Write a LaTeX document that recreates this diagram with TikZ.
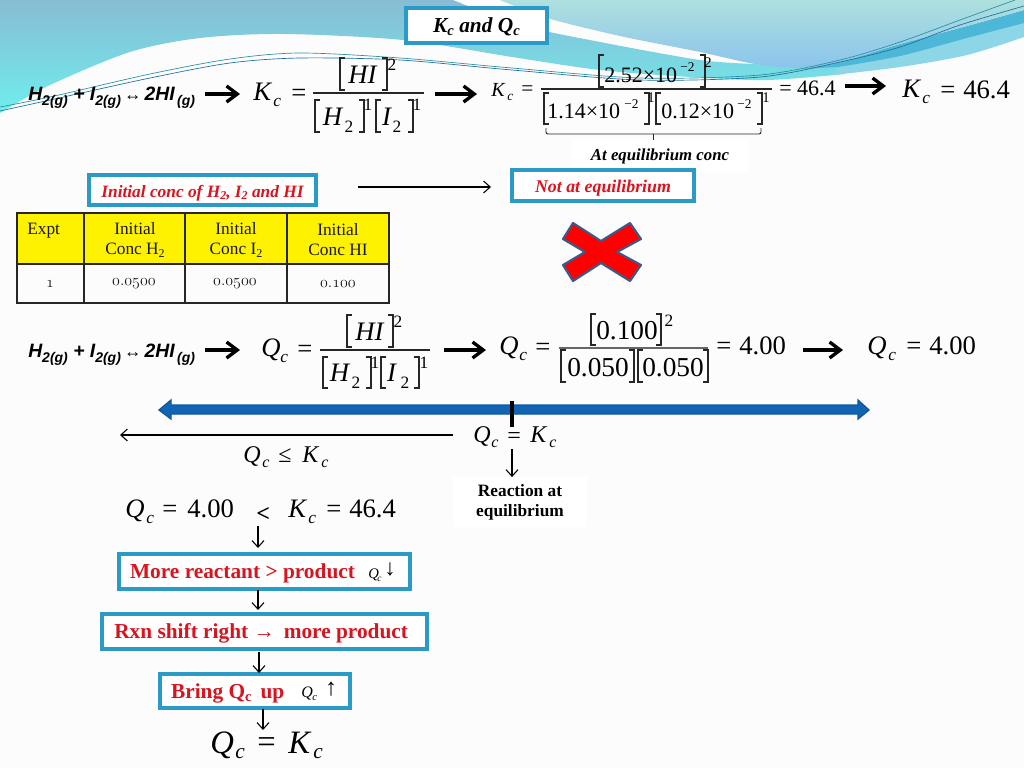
\documentclass[tikz,border=0pt]{standalone}
\usepackage{fontspec}
\setmainfont{Liberation Serif}
\newfontfamily\chemfont{Liberation Sans}
\usetikzlibrary{arrows.meta}
\definecolor{boxblue}{HTML}{2A9BC6}
\definecolor{boxred}{HTML}{D9141E}
\definecolor{crossedge}{HTML}{3B5A8C}
\definecolor{barblue}{HTML}{1264B4}
\definecolor{bardark}{HTML}{0F5A9C}
\newcommand\fs[1]{\fontsize{#1}{#1}\selectfont}
\newcommand\oldnum[1]{{\usefont{OML}{cmm}{m}{it}#1}}
\newcommand\dotnum{\char58 }
% name, anchor, x, y(base), size, text
\newcommand\Tx[6]{\node[anchor=#2,inner sep=0pt,font=\fs{#5}] (#1) at (#3,#4) {#6};}
% bracket pair x1 x2 y1 y2
\newcommand\BR[4]{\draw[brkt] (#1+5,#3) -- (#1,#3) -- (#1,#4) -- (#1+5,#4);\draw[brkt] (#2-5,#3) -- (#2,#3) -- (#2,#4) -- (#2-5,#4);}
% name x1 y1 x2 y2 text
\newcommand\Bx[6]{\node[infobox,minimum width={(#4-#2)*0.75pt},minimum height={(#5-#3)*0.75pt}] (#1) at ({(#2+#4)/2},{(#3+#5)/2}) {\raisebox{0pt}[13pt][2pt]{#6}};}
\newcommand\ChemSub[1]{\raisebox{-.55ex}{\fs{10.5}#1}}
\newcommand\Chem[3]{\node[anchor=base west,inner sep=0pt,font=\chemfont\bfseries\itshape\fs{14.5}] (#1) at (#2,#3) {H\ChemSub{2(g)} + I\ChemSub{2(g)}\,{\fontspec{Liberation Serif}\fs{13}↔}\,2HI\ChemSub{\,(g)}};}
\tikzset{
  x=0.75pt,y=-0.75pt,
  brkt/.style={line width=0.85pt,black!85,line join=miter},
  infobox/.style={draw=boxblue,fill=white,line width=2.3pt,inner sep=0pt,align=center,text=boxred,font=\bfseries\fs{16}},
  thickarrow/.style={line width=2.5pt,-{Straight Barb[length=8pt,width=12pt,line width=2.5pt]}},
  thinarrow/.style={line width=0.8pt,-{Straight Barb[length=5pt,width=9pt,line width=0.8pt]}},
  fracrule/.style={line width=0.8pt,black!85},
  gridline/.style={line width=1.2pt,black!85},
  tablehead/.style={anchor=center,align=center,inner sep=0pt,font=\fs{13},text=black!90},
}
\begin{document}
\begin{tikzpicture}
\useasboundingbox (0,0) rectangle (1024,768);
\fill[white!99!black] (0,0) rectangle (1024,768);
% --- waves
\shade[top color={rgb,255:red,136;green,188;blue,212},middle color={rgb,255:red,124;green,206;blue,224},bottom color={rgb,255:red,110;green,238;blue,238}]
  (0,0) -- (453,0) -- plot[smooth] coordinates {(453,0) (520,25) (600,42) (700,60) (755,64)}
  -- plot[smooth] coordinates {(755,64) (800,68) (840,64) (845,70)}
  -- plot[smooth] coordinates {(845,74) (767,80) (690,77) (600,70) (512,57) (403,40) (283,34) (200,38) (130,52) (50,85) (0,113)} -- cycle;
\fill[white!54!boxblue!90!cyan] plot[smooth] coordinates {(838,66) (900,55) (967,37) (1024,22)} -- (1024,37) -- plot[smooth] coordinates {(1024,37) (967,55) (900,67) (833,75)} -- cycle;
\fill[white!20!boxblue!90!cyan] plot[smooth] coordinates {(800,69) (840,62) (900,44) (967,26) (1024,10)} -- (1024,23) -- plot[smooth] coordinates {(1024,23) (967,38) (900,56) (838,67)} -- cycle;
\shade[top color={rgb,255:red,174;green,224;blue,222},bottom color={rgb,255:red,138;green,196;blue,236}]
  plot[smooth] coordinates {(500,0) (547,18) (620,36) (700,52) (755,64) (800,68) (840,62) (900,44) (967,26) (1024,10)} -- (1024,0) -- cycle;
\draw[line width=0.5pt,color={rgb,255:red,40;green,145;blue,160}] plot[smooth] coordinates {(0,107) (50,97) (150,74) (230,59) (300,53) (400,58) (512,68) (640,78) (760,75) (840,60) (900,42) (960,20) (1015,0)};
\draw[line width=0.5pt,color={rgb,255:red,30;green,110;blue,160}] plot[smooth] coordinates {(0,111) (50,100) (150,78) (230,63) (300,58) (400,60) (512,70) (640,80) (760,77) (840,62) (900,47) (960,25) (1024,6)};
% --- title and boxes
\Bx{title}{406}{8}{547}{43}{\textcolor{black}{\itshape K\raisebox{-.3ex}{\fs{11}c} and Q\raisebox{-.3ex}{\fs{11}c}}}
% --- row 1
\Chem{chemA}{28}{100}
\coordinate (a1s) at (205,94); \coordinate (a1e) at (240,94);
\draw[thickarrow] (a1s) -- (a1e);
\Tx{kA}{base west}{253}{100}{20}{\textit{K}}
\Tx{kAc}{base west}{273}{106}{13}{\textit{c}}
\Tx{kAe}{base west}{291}{101}{20}{=}
\coordinate (rAa) at (313,93); \coordinate (rAb) at (424,93);
\draw[fracrule] (rAa) -- (rAb);
\BR{340}{387}{58}{90}
\Tx{hiA}{base}{363}{83}{20}{\textit{HI}}
\Tx{supA}{base}{392}{70}{13}{2}
\BR{315}{364}{100}{132}
\Tx{hA}{base}{333}{125}{20}{\textit{H}}
\Tx{hAs}{base}{349}{132}{13}{2}
\Tx{hAp}{base}{368}{110}{13}{1}
\BR{376}{413}{100}{132}
\Tx{iA}{base}{387}{125}{20}{\textit{I}}
\Tx{iAs}{base}{397}{132}{13}{2}
\Tx{iAp}{base}{417}{110}{13}{1}
\coordinate (a2s) at (435,94); \coordinate (a2e) at (477,94);
\draw[thickarrow] (a2s) -- (a2e);
\Tx{kB}{base west}{491}{96}{15}{\textit{K}}
\Tx{kBc}{base west}{507}{100}{10}{\textit{c}}
\Tx{kBe}{base west}{521}{95}{16}{=}
\coordinate (rBa) at (541,89); \coordinate (rBb) at (772,89);
\draw[fracrule] (rBa) -- (rBb);
\BR{599}{705}{55}{87}
\Tx{nB}{base west}{604}{82}{16.5}{2.52×10}
\Tx{nBe}{base west}{680}{71}{10}{−2}
\Tx{nBp}{base}{708}{67}{11}{2}
\BR{544}{649}{93}{124}
\Tx{dB}{base west}{547}{118}{16.5}{1.14×10}
\Tx{dBe}{base west}{624}{108}{10}{−2}
\Tx{dBp}{base}{651}{102}{11}{1}
\BR{656}{762}{93}{124}
\Tx{dC}{base west}{661}{118}{16.5}{0.12×10}
\Tx{dCe}{base west}{737}{108}{10}{−2}
\Tx{dCp}{base}{766}{102}{11}{1}
\Tx{resB}{base west}{779}{95}{16.5}{= 46.4}
\draw[line width=0.7pt,black!85,rounded corners=1.5pt] (546,128) -- (546,134) -- (761,134) -- (761,128);
\coordinate (brA) at (653,134); \coordinate (brB) at (653,140);
\draw[line width=0.7pt,black!85] (brA) -- (brB);
\node[fill=white,inner sep=0pt,minimum width=132pt,minimum height=24pt,font=\bfseries\itshape\fs{12.6}] (eqconc) at (660,156) {At equilibrium conc};
\coordinate (a3s) at (845,86); \coordinate (a3e) at (886,86);
\draw[thickarrow] (a3s) -- (a3e);
\Tx{kD}{base west}{902}{97}{20}{\textit{K}}
\Tx{kDc}{base west}{922}{103}{13}{\textit{c}}
\Tx{kDe}{base west}{940}{98}{20}{=}
\Tx{kDv}{base west}{963}{98}{20}{46.4}
% --- initial conc row
\Bx{initc}{89}{175}{316}{205}{\itshape\fs{13}Initial conc of H\raisebox{-.3ex}{\fs{9}2}, I\raisebox{-.3ex}{\fs{9}2} and HI}
\Bx{noteq}{512}{170}{694}{201}{\itshape\fs{13.4}Not at equilibrium}
\coordinate (iaS) at (358,187); \coordinate (iaE) at (491,187);
\draw[thinarrow] (iaS) -- (iaE);
% --- table
\fill[yellow] (17,213) rectangle (389,264);
\draw[gridline] (17,213) rectangle (389,303);
\draw[gridline] (17,264) -- (389,264);
\draw[gridline] (84,213) -- (84,303);
\draw[gridline] (185,213) -- (185,303);
\draw[gridline] (287,213) -- (287,303);
\node[tablehead,anchor=west] (tExpt) at (27,231) {Expt};
\node[tablehead] (tH) at (135,240) {Initial\\[2pt]Conc H\raisebox{-.3ex}{\fs{9}2}};
\node[tablehead] (tI) at (236,240) {Initial\\[2pt]Conc I\raisebox{-.3ex}{\fs{9}2}};
\node[tablehead] (tHI) at (338,240) {Initial\\[2pt]Conc HI};
\node[tablehead,font=\fs{11.5}] (v0) at (50,284) {\oldnum{1}};
\node[tablehead,font=\fs{11.5}] (v1) at (134,284) {\oldnum{0\dotnum 0500}};
\node[tablehead,font=\fs{11.5}] (v2) at (235,284) {\oldnum{0\dotnum 0500}};
\node[tablehead,font=\fs{11.5}] (v3) at (338,284) {\oldnum{0\dotnum 100}};
% --- red cross
\draw[fill=red,draw=crossedge,line width=1.6pt,line join=round] (573,223) -- (601,241) -- (630,223) -- (641,239) -- (617,252) -- (641,265) -- (630,281) -- (601,263) -- (573,281) -- (563,265) -- (585,252) -- (563,239) -- cycle;
% --- row 2
\Chem{chemB}{28}{357}
\coordinate (b1s) at (205,350); \coordinate (b1e) at (240,350);
\draw[thickarrow] (b1s) -- (b1e);
\Tx{qA}{base west}{261}{356}{20}{\textit{Q}}
\Tx{qAc}{base west}{280}{362}{13}{\textit{c}}
\Tx{qAe}{base west}{297}{357}{20}{=}
\coordinate (rCa) at (320,350); \coordinate (rCb) at (430,350);
\draw[fracrule] (rCa) -- (rCb);
\BR{347}{393}{315}{347}
\Tx{hiC}{base}{370}{340}{20}{\textit{HI}}
\Tx{supC}{base}{398}{327}{13}{2}
\BR{323}{371}{357}{388}
\Tx{hC}{base}{340}{381}{20}{\textit{H}}
\Tx{hCs}{base}{356}{388}{13}{2}
\Tx{hCp}{base}{375}{368}{13}{1}
\BR{381}{419}{357}{388}
\Tx{iC}{base}{392}{381}{20}{\textit{I}}
\Tx{iCs}{base}{405}{388}{13}{2}
\Tx{iCp}{base}{424}{368}{13}{1}
\coordinate (b2s) at (444,350); \coordinate (b2e) at (486,350);
\draw[thickarrow] (b2s) -- (b2e);
\Tx{qB}{base west}{499}{354}{20}{\textit{Q}}
\Tx{qBc}{base west}{519}{360}{13}{\textit{c}}
\Tx{qBe}{base west}{535}{355}{20}{=}
\coordinate (rDa) at (559,348); \coordinate (rDb) at (708,348);
\draw[line width=1pt,black!60] (rDa) -- (rDb);
\BR{591}{661}{314}{345}
\Tx{nD}{base}{627}{339}{20.5}{0.100}
\Tx{nDp}{base}{669}{326}{13}{2}
\BR{561}{634}{350}{382}
\Tx{dD}{base}{598}{376}{20.5}{0.050}
\BR{638}{708}{350}{382}
\Tx{dE}{base}{673}{376}{20.5}{0.050}
\Tx{qBe2}{base west}{716}{354}{20}{=}
\Tx{qBv}{base west}{739}{354}{20}{4.00}
\coordinate (b3s) at (803,350); \coordinate (b3e) at (843,350);
\draw[thickarrow] (b3s) -- (b3e);
\Tx{qD}{base west}{867}{354}{20}{\textit{Q}}
\Tx{qDc}{base west}{888}{360}{13}{\textit{c}}
\Tx{qDe}{base west}{906}{354}{20}{=}
\Tx{qDv}{base west}{929}{354}{20}{4.00}
% --- blue line
\draw[fill=barblue,draw=bardark,line width=1pt,line join=miter] (159,410) -- (171,400) -- (171,405) -- (858,405) -- (858,400) -- (869,410) -- (858,419) -- (858,414) -- (171,414) -- (171,419) -- cycle;
\coordinate (tkA) at (512,401); \coordinate (tkB) at (512,427);
\draw[line width=2.4pt,black] (tkA) -- (tkB);
% --- row 3
\coordinate (laS) at (453,435); \coordinate (laE) at (120,435);
\draw[thinarrow] (laS) -- (laE);
\Tx{qE}{base west}{473}{442}{18}{\textit{Q}}
\Tx{qEc}{base west}{491}{447}{12}{\textit{c}}
\Tx{qEe}{base west}{507}{443}{18}{=}
\Tx{kE}{base west}{530}{442}{18}{\textit{K}}
\Tx{kEc}{base west}{549}{447}{12}{\textit{c}}
\Tx{qF}{base west}{243}{462}{18}{\textit{Q}}
\Tx{qFc}{base west}{262}{467}{12}{\textit{c}}
\Tx{qFe}{base west}{278}{462}{18}{≤}
\Tx{kF}{base west}{302}{462}{18}{\textit{K}}
\Tx{kFc}{base west}{321}{467}{12}{\textit{c}}
\node[fill=white,inner sep=0pt,minimum width=100pt,minimum height=37pt,align=center,font=\bfseries\fs{13}] (rxeq) at (520,502) {Reaction at\\[2pt]equilibrium};
\coordinate (daS) at (512,449);
\draw[thinarrow] (daS) -- (rxeq.north -| daS);
% --- row 4
\Tx{qG}{base west}{125}{517}{20}{\textit{Q}}
\Tx{qGc}{base west}{146}{523}{13}{\textit{c}}
\Tx{qGe}{base west}{162}{517}{20}{=}
\Tx{qGv}{base west}{187}{517}{20}{4.00}
\Tx{ltG}{base west}{256}{521}{18}{\textbf{<}}
\Tx{kG}{base west}{288}{517}{20}{\textit{K}}
\Tx{kGc}{base west}{308}{523}{13}{\textit{c}}
\Tx{kGe}{base west}{326}{517}{20}{=}
\Tx{kGv}{base west}{349}{517}{20}{46.4}
% --- chain
\Bx{more}{119}{554}{410}{589}{More reactant > product\hspace*{33pt}}
\Tx{moreQ}{base west}{368}{578}{11}{\textit{Q}}
\Tx{moreQc}{base west}{377}{581}{7}{\textit{c}}
\Tx{moreA}{base}{390}{575}{17}{↓}
\Bx{rxn}{102}{614}{427}{649}{Rxn shift right → \,more product\hspace*{5pt}}
\Bx{bring}{160}{674}{350}{708}{Bring Q\raisebox{-.3ex}{\fs{11}c} \,up\hspace*{41pt}}
\Tx{bringQ}{base west}{301}{697}{12}{\textit{Q}}
\Tx{bringQc}{base west}{312}{700}{8}{\textit{c}}
\Tx{bringA}{base}{331}{695}{18}{↑}
\coordinate (c1) at (258,526); \coordinate (c2) at (258,548);
\draw[thinarrow] (c1) -- (c2);
\coordinate (c3) at (258,590); \coordinate (c4) at (258,610);
\draw[thinarrow] (c3) -- (c4);
\coordinate (c5) at (259,652); \coordinate (c6) at (259,673);
\draw[thinarrow] (c5) -- (c6);
\coordinate (c7) at (263,709); \coordinate (c8) at (263,730);
\draw[thinarrow] (c7) -- (c8);
\Tx{qH}{base west}{210}{753}{24.5}{\textit{Q}}
\Tx{qHc}{base west}{235}{758}{16}{\textit{c}}
\Tx{qHe}{base west}{257}{752}{24.5}{=}
\Tx{kH}{base west}{288}{753}{24.5}{\textit{K}}
\Tx{kHc}{base west}{313}{758}{16}{\textit{c}}
\end{tikzpicture}
\end{document}
